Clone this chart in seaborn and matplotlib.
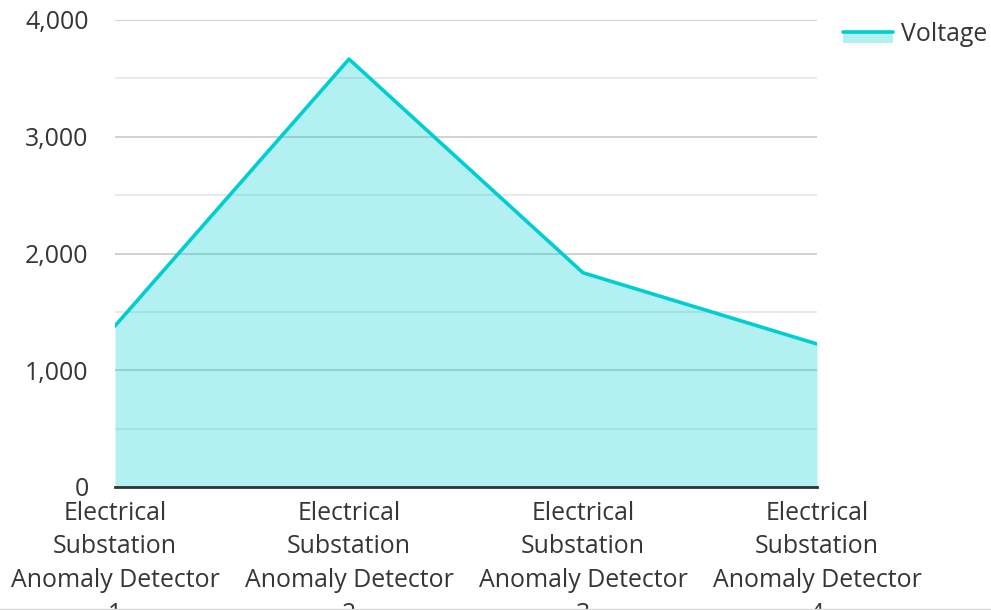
import matplotlib
matplotlib.use("Agg")
import matplotlib.pyplot as plt
from matplotlib.lines import Line2D
from matplotlib.patches import Rectangle
from matplotlib.ticker import FuncFormatter, MultipleLocator
import seaborn as sns
import pandas as pd

# Readings per detector
detectors = [
    "Electrical\nSubstation\nAnomaly Detector\n1",
    "Electrical\nSubstation\nAnomaly Detector\n2",
    "Electrical\nSubstation\nAnomaly Detector\n3",
    "Electrical\nSubstation\nAnomaly Detector\n4",
]
voltage = [1380, 3665, 1835, 1225]
y_ticks = [0, 1000, 2000, 3000, 4000]
series_name = "Voltage"

LINE = "#00CED1"
TEXT = "#363636"
FS = 17.9

sns.set_theme(style="white")
plt.rcParams["font.family"] = ["Open Sans", "DejaVu Sans"]

df = pd.DataFrame({"pos": range(len(detectors)), "value": voltage})

W, H = 991, 610
fig = plt.figure(figsize=(W / 100, H / 100), dpi=100)
ax = fig.add_axes([115 / W, 1 - 487 / H, (817 - 115) / W, (487 - 20) / H])

# Grid: major every 1000, minor every 500
ax.set_ylim(0, 4000)
ax.set_xlim(0, len(detectors) - 1)
ax.yaxis.set_major_locator(MultipleLocator(1000))
ax.yaxis.set_minor_locator(MultipleLocator(500))
ax.grid(axis="y", which="major", color="#c9c9c9", linewidth=1.2, zorder=0)
ax.grid(axis="y", which="minor", color="#e6e6e6", linewidth=1.2, zorder=0)
ax.grid(axis="x", visible=False)
ax.set_axisbelow(True)

ax.fill_between(df["pos"], df["value"], 0, color=LINE, alpha=0.3, linewidth=0, zorder=2)
sns.lineplot(data=df, x="pos", y="value", ax=ax, color=LINE, linewidth=2.6,
             zorder=3, legend=False)

ax.set_xticks(range(len(detectors)))
ax.set_xticklabels(detectors, fontsize=FS, color=TEXT, linespacing=1.45,
                   va="top")
ax.set_yticks(y_ticks)
ax.yaxis.set_major_formatter(FuncFormatter(lambda v, p: f"{int(v):,}"))
ax.tick_params(axis="y", labelsize=FS, labelcolor=TEXT, pad=19, length=0,
               which="both")
ax.tick_params(axis="x", pad=10, length=0)
ax.set_xlabel("")
ax.set_ylabel("")

for side in ["top", "right", "left"]:
    ax.spines[side].set_visible(False)
ax.spines["bottom"].set_color("#333333")
ax.spines["bottom"].set_linewidth(2)
ax.spines["bottom"].set_zorder(4)

# Legend swatch: line over a light fill
fig.add_artist(Rectangle((843 / W, 1 - 43 / H), 50 / W, 11 / H,
                         transform=fig.transFigure, facecolor=LINE, alpha=0.3,
                         edgecolor="none"))
fig.add_artist(Line2D([843 / W, 893 / W], [1 - 32 / H, 1 - 32 / H],
                      transform=fig.transFigure, color=LINE, linewidth=2.6))
fig.text(901 / W, 1 - 34.5 / H, series_name, fontsize=FS, color=TEXT,
         va="center", ha="left")

# Thin border line along the bottom edge
fig.add_artist(Line2D([0, 1], [1 - 608.5 / H, 1 - 608.5 / H],
                      transform=fig.transFigure, color="#d9d9d9", linewidth=1))

fig.savefig("out.png", dpi=100)
